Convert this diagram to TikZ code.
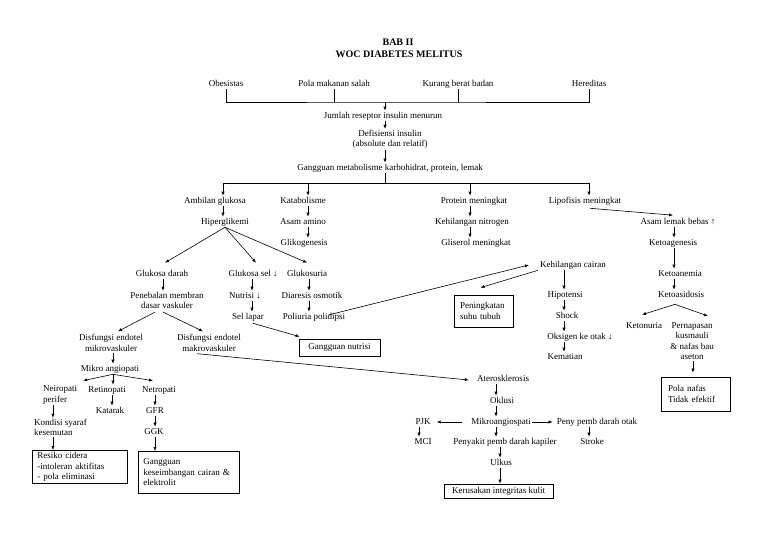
\documentclass[tikz,border=0pt]{standalone}
\usepackage{fontspec}
\setmainfont{Liberation Serif}
\usetikzlibrary{arrows.meta,calc}
\begin{document}
\begin{tikzpicture}[x=1pt,y=-1pt,
  tm/.style={font=\fontsize{9}{10.5}\selectfont, inner sep=1pt, align=center},
  t/.style={tm, text height=6.3pt, text depth=1.9pt},
  tl/.style={tm, align=left},
  bx/.style={draw, line width=0.7pt, font=\fontsize{9}{10.5}\selectfont, align=left, inner xsep=5pt, inner ysep=2pt},
  arr/.style={-{Latex[length=4pt,width=3.2pt]}, line width=0.6pt},
  ln/.style={line width=0.6pt}]
\useasboundingbox (0,0) rectangle (768,543);
\fill[white] (0,0) rectangle (768,543);
% title
\node[t, font=\bfseries\fontsize{10}{12}\selectfont] (t1) at (398,43) {BAB II};
\node[t, font=\bfseries\fontsize{10}{12}\selectfont] (t2) at (399,55) {WOC DIABETES MELITUS};
% top causes
\node[t] (ob) at (226,84) {Obesistas};
\node[t] (pm) at (334,84) {Pola makanan salah};
\node[t] (kb) at (458,84) {Kurang berat badan};
\node[t] (he) at (589,84) {Hereditas};
\coordinate (j0) at (385,102);
\draw[ln] (ob.south) |- (j0) -| (he.south);
\draw[ln] (pm.south) -- (pm.south |- j0);
\draw[ln] (kb.south) -- (kb.south |- j0);
\node[t] (ju) at (383,116) {Jumlah reseptor insulin menurun};
\draw[arr] (j0) -- (j0 |- ju.north);
\node[tm] (de) at (390,139.5) {Defisiensi insulin\\(absolute dan relatif)};
\draw[arr] (ju.south -| j0) -- (de.north -| j0);
\node[t] (gm0) at (390,168) {Gangguan metabolisme karbohidrat, protein, lemak};
\draw[arr] (de.south -| j0) -- (gm0.north -| j0);
\coordinate (j1) at (385,183);
\draw[ln] (gm0.south -| j1) -- (j1);
\coordinate (b1) at (223,183);
\coordinate (b2) at (308,183);
\coordinate (b3) at (470,183);
\coordinate (b4) at (589,183);
\draw[ln] (b1) -- (b4);
\node[t] (am) at (215,201) {Ambilan glukosa};
\node[t] (ka) at (303,201) {Katabolisme};
\node[t] (pr) at (474,201) {Protein meningkat};
\node[t] (li) at (585,201) {Lipofisis meningkat};
\foreach \b/\n in {b1/am,b2/ka,b3/pr,b4/li} \draw[arr] (\b) -- (\b |- \n.north);
% second level
\node[t] (hi) at (225,222) {Hiperglikemi};
\draw[arr] (b1 |- am.south) -- (b1 |- hi.north);
\node[t] (aa) at (303,222) {Asam amino};
\draw[arr] (b2 |- ka.south) -- (b2 |- aa.north);
\node[t] (gk) at (304,243) {Glikogenesis};
\draw[arr] (b2 |- aa.south) -- (b2 |- gk.north);
\node[t] (kn) at (472,222) {Kehilangan nitrogen};
\draw[arr] (b3 |- pr.south) -- (b3 |- kn.north);
\node[t] (gl) at (476,243) {Gliserol meningkat};
\draw[arr] (b3 |- kn.south) -- (b3 |- gl.north);
\node[t] (al) at (678,222) {Asam lemak bebas ↑};
\draw[arr] ($(li.south)+(5,2)$) -- ($(al.north)+(-5,-1.5)$);
\coordinate (c1) at (674,0);
\node[t] (ke) at (673,243) {Ketoagenesis};
\draw[arr] (al.south -| c1) -- (ke.north -| c1);
\node[t] (kan) at (680,274) {Ketoanemia};
\draw[arr] (ke.south -| c1) -- (kan.north -| c1);
\node[t] (kas) at (681,295) {Ketoasidosis};
\draw[arr] (kan.south -| c1) -- (kas.north -| c1);
\node[t] (ku) at (644,326) {Ketonuria};
\node[tm] (pk) at (692,341) {Pernapasan\\kusmauli\\\& nafas bau\\aseton};
\coordinate (kap) at ($(kas.south)+(-6,4)$);
\draw[arr] (kap) -- ($(ku.north)+(-2,-6)$);
\draw[arr] (kap) -- ($(pk.north)+(16,-5)$);
\node[bx, text width=55pt, inner xsep=7pt, minimum height=34pt] (pn) at (695.5,394) {Pola nafas\\Tidak efektif};
\coordinate (c2) at (693,0);
\draw[arr] (pk.south -| c2) -- ($(pn.north -| c2)+(0,-4)$);
% hyperglycemia branch
\node[t] (gd) at (162,274) {Glukosa darah};
\node[t] (gs) at (253,274) {Glukosa sel ↓};
\node[t] (gu) at (307,274) {Glukosuria};
\draw[arr] (hi.south) -- ($(gd.north)+(3,-6)$);
\draw[arr] (hi.south) -- ($(gs.north)+(3,-6)$);
\draw[arr] (hi.south) -- ($(gu.north)+(0,-6)$);
\node[tm] (pe) at (167,300.5) {Penebalan membran\\dasar vaskuler};
\coordinate (c3) at (163,0);
\draw[arr] (gd.south -| c3) -- (pe.north -| c3);
\node[t] (nu) at (245,296) {Nutrisi ↓};
\coordinate (c4) at (252,0);
\draw[arr] (gs.south -| c4) -- (nu.north -| c4);
\node[t] (sl) at (248,317) {Sel lapar};
\draw[arr] (nu.south -| c4) -- (sl.north -| c4);
\node[t] (dos) at (312,296) {Diaresis osmotik};
\coordinate (c5) at (309,0);
\draw[arr] (gu.south -| c5) -- (dos.north -| c5);
\node[t] (pp) at (314,317) {Poliuria polidipsi};
\draw[arr] (dos.south -| c5) -- (pp.north -| c5);
\node[tm] (dmi) at (111,343) {Disfungsi endotel\\mikrovaskuler};
\node[tm] (dma) at (209,343) {Disfungsi endotel\\makrovaskuler};
\draw[arr] ($(pe.south)+(-12,2)$) -- ($(dmi.north)+(7,-2)$);
\draw[arr] ($(pe.south)+(-4,2)$) -- ($(dma.north)+(-6,-2)$);
\node[bx, minimum width=81pt, minimum height=17pt, inner sep=0pt, align=center] (gn) at (339.5,347.5) {Gangguan nutrisi};
\draw[arr] ($(sl.south)+(5,1)$) -- ($(gn.north west)+(1,-2)$);
% fluid loss
\node[t] (kc) at (573,265) {Kehilangan cairan};
\draw[arr] ($(pp.east)+(-18,-2)$) -- ($(kc.west)+(-10,0)$);
\node[bx, text width=47pt, inner xsep=6pt, minimum height=32pt] (psu) at (483.5,311) {Peningkatan\\suhu tubuh};
\draw[arr] ($(kc.south west)+(-1,0)$) -- ($(psu.north)+(-3,-7)$);
\node[t] (hp) at (565,295) {Hipotensi};
\coordinate (c6) at (564,0);
\draw[arr] (kc.south -| c6) -- (hp.north -| c6);
\node[t] (sh) at (567,316) {Shock};
\draw[arr] (hp.south -| c6) -- (sh.north -| c6);
\node[t] (ox) at (580,337) {Oksigen ke otak ↓};
\draw[arr] (sh.south -| c6) -- (ox.north -| c6);
\node[t] (km) at (565,357) {Kematian};
\draw[arr] (ox.south -| c6) -- (km.north -| c6);
% micro
\node[t] (ma) at (110,369) {Mikro angiopati};
\coordinate (c7) at (113,0);
\draw[arr] (dmi.south -| c7) -- (ma.north -| c7);
\node[tl, anchor=west] (ne) at (42,395) {Neiropati\\perifer};
\node[t] (re) at (107,390) {Retinopati};
\node[t] (nt) at (159,390) {Netropati};
\coordinate (map) at ($(ma.south)+(3,0)$);
\draw[arr] (map) -- ($(ne.north)+(23,-4)$);
\draw[arr] (map) -- (map |- re.north);
\draw[arr] (map) -- ($(nt.north)+(-6,-4)$);
\node[t] (kt) at (110,411) {Katarak};
\coordinate (c8) at (112,0);
\draw[arr] (re.south -| c8) -- (kt.north -| c8);
\node[t] (gf) at (155,411) {GFR};
\coordinate (c9) at (155,0);
\draw[arr] (nt.south -| c9) -- (gf.north -| c9);
\node[t] (gg) at (154,432) {GGK};
\draw[arr] (gf.south -| c9) -- (gg.north -| c9);
\node[tl, anchor=west] (ks2) at (33,427.5) {Kondisi syaraf\\kesemutan};
\coordinate (c10) at (53,0);
\draw[arr] (ne.south -| c10) -- (ks2.north -| c10);
\node[bx, text width=85pt, minimum height=33pt, anchor=north west] (rc) at (32,450) {Resiko cidera\\-intoleran aktifitas\\- pola eliminasi};
\draw[arr] (ks2.south -| c10) -- (rc.north -| c10);
\node[bx, text width=91pt, minimum height=42pt, anchor=north west] (gkc) at (138,451) {Gangguan\\keseimbangan cairan \&\\elektrolit};
\draw[arr] (gg.south -| c9) -- (gkc.north -| c9);
% macro
\node[t] (ater) at (503,379) {Aterosklerosis};
\draw[arr] ($(dma.south)+(-12,1)$) -- ($(ater.west)+(-7,1)$);
\coordinate (c11) at (496,0);
\node[t] (ok) at (502,401) {Oklusi};
\draw[arr] (ater.south -| c11) -- (ok.north -| c11);
\node[t] (mk) at (501,422) {Mikroangiospati};
\draw[arr] (ok.south -| c11) -- (mk.north -| c11);
\node[t] (pj) at (423,422) {PJK};
\draw[arr] ($(mk.west)+(-8,0)$) -- ($(pj.east)+(5,0)$);
\node[t] (po) at (597,422) {Peny pemb darah otak};
\draw[arr] (mk.east) -- ($(po.west)+(-3,0)$);
\node[t] (mci) at (423,442) {MCI};
\coordinate (c12) at (419,0);
\draw[arr] (pj.south -| c12) -- (mci.north -| c12);
\node[t] (pk2) at (505,442) {Penyakit pemb darah kapiler};
\draw[arr] (mk.south -| c11) -- (pk2.north -| c11);
\node[t] (st) at (592,442) {Stroke};
\coordinate (c13) at (589,0);
\draw[arr] (po.south -| c13) -- (st.north -| c13);
\node[t] (ul) at (501,463) {Ulkus};
\coordinate (c14) at (500,0);
\draw[arr] (pk2.south -| c14) -- (ul.north -| c14);
\node[bx, minimum width=109pt, minimum height=14pt, inner sep=0pt, align=center] (kik) at (498.5,491) {Kerusakan integritas kulit};
\draw[arr] (ul.south -| c14) -- (kik.north -| c14);
\end{tikzpicture}
\end{document}
